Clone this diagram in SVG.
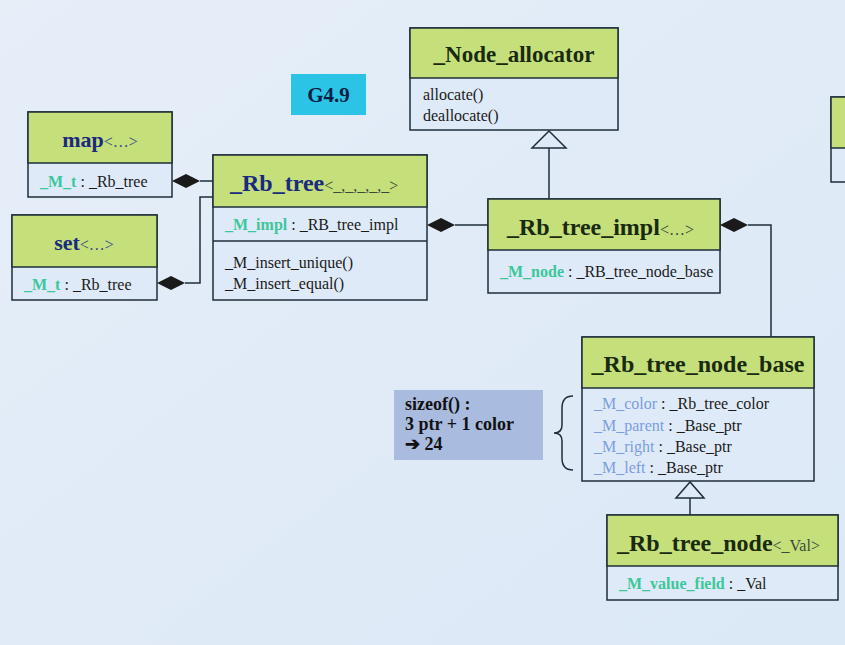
<svg xmlns="http://www.w3.org/2000/svg" width="845" height="645" viewBox="0 0 845 645">
<defs>
<linearGradient id="bg" x1="0" y1="0" x2="1" y2="1"><stop offset="0" stop-color="#e6eef8"/><stop offset="1" stop-color="#dbe8f6"/></linearGradient>
</defs>
<style>
.box{fill:#dfeaf8;stroke:#1e2e3a;stroke-width:1.5}
.hd{fill:#c5e07a;stroke:#1e2e3a;stroke-width:1.5}
.t{font-family:'Liberation Serif','Times New Roman','DejaVu Serif',serif;fill:#1a1a1a}
.ti{font-family:'Liberation Serif','Times New Roman','DejaVu Serif',serif;font-weight:bold;fill:#1a2a10}
.bl{fill:#1a2a80}
.g{fill:#3cc79a;font-weight:bold}
.b{fill:#7a9de0}
.s{font-weight:normal;font-size:16px;fill:#3a4a3a}
.ln{fill:none;stroke:#1e2e3a;stroke-width:1.5}
.dm{fill:#1a1a1a}
.tri{fill:#dfeaf8;stroke:#1e2e3a;stroke-width:1.5}
</style>
<rect width="845" height="645" fill="url(#bg)"/>
<g id="g49"><rect x="291" y="74" width="75" height="41" fill="#2cc4e6"/><text x="328.5" y="102" text-anchor="middle" class="ti" font-size="21" style="fill:#0a2040">G4.9</text></g>
<g id="node_allocator">
<rect class="box" x="410" y="28" width="208" height="102"/><rect class="hd" x="410" y="28" width="208" height="50"/>
<text x="514" y="62" text-anchor="middle" class="ti" font-size="23">_Node_allocator</text>
<text x="423" y="100" class="t" font-size="16">allocate()</text>
<text x="423" y="121" class="t" font-size="16">deallocate()</text>
</g>
<g id="partial"><rect class="box" x="831" y="97" width="20" height="85"/><rect class="hd" x="831" y="97" width="20" height="51"/></g>
<g id="map">
<rect class="box" x="28" y="112" width="144" height="85"/><rect class="hd" x="28" y="112" width="144" height="51"/>
<text x="100" y="147" text-anchor="middle" class="ti bl" font-size="22">map<tspan class="s" style="fill:#3a4a8a">&lt;…&gt;</tspan></text>
<text x="40" y="187" class="t" font-size="16"><tspan class="g">_M_t</tspan> : _Rb_tree</text>
</g>
<g id="set">
<rect class="box" x="12" y="215" width="145" height="85"/><rect class="hd" x="12" y="215" width="145" height="52"/>
<text x="84" y="250" text-anchor="middle" class="ti bl" font-size="22">set<tspan class="s" style="fill:#3a4a8a">&lt;…&gt;</tspan></text>
<text x="24" y="290" class="t" font-size="16"><tspan class="g">_M_t</tspan> : _Rb_tree</text>
</g>
<g id="rb_tree">
<rect class="box" x="213" y="155" width="214" height="145"/><rect class="hd" x="213" y="155" width="214" height="52"/>
<line class="ln" x1="213" y1="241" x2="427" y2="241"/>
<text x="230" y="191" class="ti bl" font-size="24">_Rb_tree<tspan class="s">&lt;_,_,_,_,_&gt;</tspan></text>
<text x="225" y="230" class="t" font-size="16"><tspan class="g">_M_impl</tspan> : _RB_tree_impl</text>
<text x="225" y="268" class="t" font-size="16">_M_insert_unique()</text>
<text x="225" y="289" class="t" font-size="16">_M_insert_equal()</text>
</g>
<g id="rb_tree_impl">
<rect class="box" x="488" y="199" width="232" height="94"/><rect class="hd" x="488" y="199" width="232" height="51"/>
<text x="507" y="235" class="ti" font-size="24">_Rb_tree_impl<tspan class="s">&lt;…&gt;</tspan></text>
<text x="500" y="277" class="t" font-size="16"><tspan class="g">_M_node</tspan> : _RB_tree_node_base</text>
</g>
<g id="rb_tree_node_base">
<rect class="box" x="582" y="337" width="232" height="144"/><rect class="hd" x="582" y="337" width="232" height="51"/>
<text x="698" y="372" text-anchor="middle" class="ti" font-size="24">_Rb_tree_node_base</text>
<text x="594" y="409" class="t" font-size="16"><tspan class="b">_M_color</tspan> : _Rb_tree_color</text>
<text x="594" y="431" class="t" font-size="16"><tspan class="b">_M_parent</tspan> : _Base_ptr</text>
<text x="594" y="452" class="t" font-size="16"><tspan class="b">_M_right</tspan> : _Base_ptr</text>
<text x="594" y="473" class="t" font-size="16"><tspan class="b">_M_left</tspan> : _Base_ptr</text>
</g>
<g id="rb_tree_node">
<rect class="box" x="607" y="515" width="231" height="85"/><rect class="hd" x="607" y="515" width="231" height="51"/>
<text x="617" y="551" class="ti" font-size="24">_Rb_tree_node<tspan class="s">&lt;_Val&gt;</tspan></text>
<text x="619" y="589" class="t" font-size="16"><tspan class="g">_M_value_field</tspan> : _Val</text>
</g>
<g id="sizeof_note">
<rect x="394" y="390" width="149" height="70" fill="#a9bce0"/>
<text x="405" y="410" class="ti" font-size="18" style="fill:#111">sizeof() :</text>
<text x="405" y="430" class="ti" font-size="18" style="fill:#111">3 ptr + 1 color</text>
<text x="405" y="450" class="ti" font-size="18" style="fill:#111">➔  24</text>
<path class="ln" d="M573,396 Q562,396 562,408 L562,425 Q562,433 554,433 Q562,433 562,441 L562,458 Q562,470 573,470"/>
</g>
<g id="connectors">
<line class="ln" x1="200" y1="181" x2="213" y2="181"/>
<polygon class="dm" points="172,181 186,174 200,181 186,188"/>
<polyline class="ln" points="185,283 200,283 200,197 213,197"/>
<polygon class="dm" points="157,283 171,276 185,283 171,290"/>
<line class="ln" x1="455" y1="225" x2="488" y2="225"/>
<polygon class="dm" points="427,225 441,218 455,225 441,232"/>
<line class="ln" x1="549" y1="148" x2="549" y2="199"/>
<polygon class="tri" points="549,131 532,148 566,148"/>
<polyline class="ln" points="748,225 771,225 771,337"/>
<polygon class="dm" points="720,225 734,218 748,225 734,232"/>
<line class="ln" x1="690" y1="498" x2="690" y2="515"/>
<polygon class="tri" points="690,482 676,498 704,498"/>
</g>
</svg>
